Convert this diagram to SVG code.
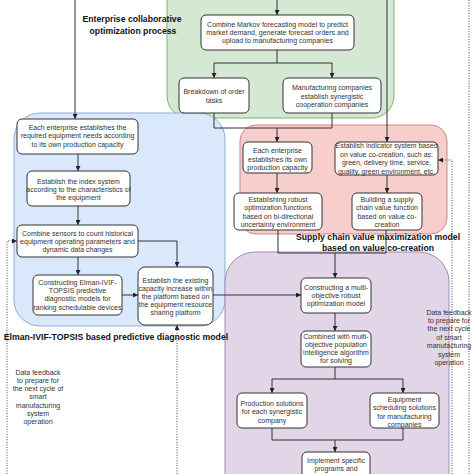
<svg xmlns="http://www.w3.org/2000/svg" width="474" height="474" viewBox="0 0 474 474">
<style>
.bg{fill:#fff}
.box{fill:#fff;stroke:#333;stroke-width:1}
.t{font-family:"Liberation Sans",Arial,sans-serif;font-size:7px;fill:#333;text-anchor:middle}
.ti{font-family:"Liberation Sans",Arial,sans-serif;font-size:8.7px;font-weight:bold;fill:#111;text-anchor:middle}
.ln{fill:none;stroke:#333;stroke-width:1}
.dot{fill:none;stroke:#444;stroke-width:1;stroke-dasharray:1,1.6}
</style>
<defs>
<marker id="ar" viewBox="0 0 6 6" refX="6" refY="3" markerWidth="5" markerHeight="5" orient="auto"><path d="M0,0 L6,3 L0,6 z" fill="#222"/></marker>
</defs>
<rect class="bg" width="474" height="474"/>
<g id="regions">
<rect id="region-green" x="167" y="-30" width="227" height="148" rx="22" fill="#d5e8d4" stroke="#82b366"/>
<rect id="region-blue" x="14" y="113" width="211" height="213" rx="26" fill="#dae8fc" stroke="#8fadd6"/>
<rect id="region-red" x="240" y="125" width="207" height="109" rx="16" fill="#f8cecc" stroke="#c98a88"/>
<rect id="region-purple" x="225" y="252" width="224" height="260" rx="30" fill="#e1d5e7" stroke="#a58bb3"/>
</g>
<g id="titles">
<text class="ti" x="132" y="22">Enterprise collaborative</text>
<text class="ti" x="133" y="33.5">optimization process</text>
<text class="ti" x="378" y="240">Supply chain value maximization model</text>
<text class="ti" x="378" y="250.5">based on value co-creation</text>
<text class="ti" x="116" y="340">Elman-IVIF-TOPSIS based predictive diagnostic model</text>
</g>
<g id="connectors">
<path class="ln" d="M75,0 V119" marker-end="url(#ar)"/>
<path class="ln" d="M277,0 V15" marker-end="url(#ar)"/>
<path class="ln" d="M387,0 V142" marker-end="url(#ar)"/>
<path class="ln" d="M277,50 V63 H214 V78" marker-end="url(#ar)"/>
<path class="ln" d="M277,63 H332 V78" marker-end="url(#ar)"/>
<path class="ln" d="M214,113 V128 H332 V113"/>
<path class="ln" d="M277,128 V142" marker-end="url(#ar)"/>
<path class="ln" d="M277,173 V193" marker-end="url(#ar)"/>
<path class="ln" d="M387,175 V193" marker-end="url(#ar)"/>
<path class="ln" d="M278,230 V253 H386 V230"/>
<path class="ln" d="M335,253 V278" marker-end="url(#ar)"/>
<path class="ln" d="M335,313 V331" marker-end="url(#ar)"/>
<path class="ln" d="M335,367 V379 H272 V393" marker-end="url(#ar)"/>
<path class="ln" d="M335,379 H403 V393" marker-end="url(#ar)"/>
<path class="ln" d="M272,428 V440 H403 V428"/>
<path class="ln" d="M335,440 V452" marker-end="url(#ar)"/>
<path class="ln" d="M78,154 V171" marker-end="url(#ar)"/>
<path class="ln" d="M78,206 V225" marker-end="url(#ar)"/>
<path class="ln" d="M78,257 V275" marker-end="url(#ar)"/>
<path class="ln" d="M138,241 H177 V267" marker-end="url(#ar)"/>
<path class="ln" d="M122,295 H138" marker-end="url(#ar)"/>
<path class="ln" d="M213,295 H301" marker-end="url(#ar)"/>
<path class="dot" d="M7,474 V241 H17" marker-end="url(#ar)"/>
<path class="dot" d="M177,474 V325" marker-end="url(#ar)"/>
<path class="dot" d="M469,0 V474"/>
<path class="dot" d="M452,474 V160 H438" marker-end="url(#ar)"/>
</g>
<g id="n-markov"><rect class="box" x="201" y="15" width="153" height="35" rx="5"/>
<text class="t" x="277.5" y="26.6">Combine Markov forecasting model to predict</text>
<text class="t" x="277.5" y="35">market demand, generate forecast orders and</text>
<text class="t" x="277.5" y="43.4">upload to manufacturing companies</text></g>
<g id="n-breakdown"><rect class="box" x="179" y="78" width="70" height="35" rx="5"/>
<text class="t" x="214" y="94.2">Breakdown of order</text>
<text class="t" x="214" y="102.6">tasks</text></g>
<g id="n-manufacturing"><rect class="box" x="283" y="78" width="98" height="35" rx="5"/>
<text class="t" x="332" y="90.2">Manufacturing companies</text>
<text class="t" x="332" y="98.6">establish synergistic</text>
<text class="t" x="332" y="107">cooperation companies</text></g>
<g id="n-own-capacity"><rect class="box" x="243" y="142" width="69" height="31" rx="5"/>
<text class="t" x="277.5" y="153">Each enterprise</text>
<text class="t" x="277.5" y="161.5">establishes its own</text>
<text class="t" x="277.5" y="170">production capacity</text></g>
<g id="n-indicator"><rect class="box" x="335" y="142" width="103" height="33" rx="5"/>
<text class="t" x="386.5" y="147.8">Establish indicator system based</text>
<text class="t" x="386.5" y="156.5">on value co-creation, such as:</text>
<text class="t" x="386.5" y="165.2">green, delivery time, service,</text>
<text class="t" x="386.5" y="173.6">quality, green environment, etc.</text></g>
<g id="n-robust"><rect class="box" x="234" y="193" width="88" height="37" rx="5"/>
<text class="t" x="278" y="202">Establishing robust</text>
<text class="t" x="278" y="210.4">optimization functions</text>
<text class="t" x="278" y="218.8">based on bi-directional</text>
<text class="t" x="278" y="227.2">uncertainty environment</text></g>
<g id="n-building"><rect class="box" x="352" y="193" width="70" height="37" rx="5"/>
<text class="t" x="387" y="202">Building a supply</text>
<text class="t" x="387" y="210.4">chain value function</text>
<text class="t" x="387" y="218.8">based on value co-</text>
<text class="t" x="387" y="227.2">creation</text></g>
<g id="n-multi"><rect class="box" x="301" y="278" width="70" height="35" rx="5"/>
<text class="t" x="336" y="289.5">Constructing a multi-</text>
<text class="t" x="336" y="297.5">objective robust</text>
<text class="t" x="336" y="305.7">optimization model</text></g>
<g id="n-combined"><rect class="box" x="301" y="331" width="70" height="36" rx="5"/>
<text class="t" x="336" y="338.7">Combined with multi-</text>
<text class="t" x="336" y="346.8">objective population</text>
<text class="t" x="336" y="354.9">intelligence algorithm</text>
<text class="t" x="336" y="363">for solving</text></g>
<g id="n-production"><rect class="box" x="237" y="393" width="70" height="35" rx="5"/>
<text class="t" x="272" y="405.5">Production solutions</text>
<text class="t" x="272" y="414">for each synergistic</text>
<text class="t" x="272" y="422.5">company</text></g>
<g id="n-equipment"><rect class="box" x="370" y="393" width="69" height="35" rx="5"/>
<text class="t" x="404.5" y="401.5">Equipment</text>
<text class="t" x="404.5" y="410">scheduling solutions</text>
<text class="t" x="404.5" y="418.5">for manufacturing</text>
<text class="t" x="404.5" y="427">companies</text></g>
<g id="n-implement"><rect class="box" x="302" y="452" width="68" height="40" rx="5"/>
<text class="t" x="336" y="462.5">Implement specific</text>
<text class="t" x="336" y="470.8">programs and</text></g>
<g id="n-required"><rect class="box" x="17" y="119" width="121" height="35" rx="5"/>
<text class="t" x="77.5" y="129.8">Each enterprise establishes the</text>
<text class="t" x="77.5" y="138.2">required equipment needs according</text>
<text class="t" x="77.5" y="146.6">to its own production capacity</text></g>
<g id="n-index"><rect class="box" x="27" y="171" width="103" height="35" rx="5"/>
<text class="t" x="78.5" y="183.6">Establish the index system</text>
<text class="t" x="78.5" y="192">according to the characteristics of</text>
<text class="t" x="78.5" y="200.4">the equipment</text></g>
<g id="n-sensors"><rect class="box" x="17" y="225" width="121" height="32" rx="5"/>
<text class="t" x="77.5" y="235.5">Combine sensors to count historical</text>
<text class="t" x="77.5" y="243.7">equipment operating parameters and</text>
<text class="t" x="77.5" y="251.9">dynamic data changes</text></g>
<g id="n-elman"><rect class="box" x="33" y="275" width="89" height="40" rx="5"/>
<text class="t" x="77.5" y="284.6">Constructing Elman-IVIF-</text>
<text class="t" x="77.5" y="293">TOPSIS predictive</text>
<text class="t" x="77.5" y="301.4">diagnostic models for</text>
<text class="t" x="77.5" y="309.8">ranking schedulable devices</text></g>
<g id="n-existing"><rect class="box" x="138" y="267" width="75" height="58" rx="7"/>
<text class="t" x="175.5" y="282.6">Establish the existing</text>
<text class="t" x="175.5" y="290.6">capacity increase within</text>
<text class="t" x="175.5" y="298.6">the platform based on</text>
<text class="t" x="175.5" y="306.6">the equipment resource</text>
<text class="t" x="175.5" y="314.6">sharing platform</text></g>
<g id="feedback-left">
<text class="t" x="38" y="374.5">Data feedback</text>
<text class="t" x="38" y="382.8">to prepare for</text>
<text class="t" x="38" y="391.1">the next cycle of</text>
<text class="t" x="38" y="399.4">smart</text>
<text class="t" x="38" y="407.7">manufacturing</text>
<text class="t" x="38" y="416">system</text>
<text class="t" x="38" y="424.3">operation</text>
</g>
<g id="feedback-right">
<text class="t" x="449" y="314.5">Data feedback</text>
<text class="t" x="449" y="322.9">to prepare for</text>
<text class="t" x="449" y="331.3">the next cycle</text>
<text class="t" x="449" y="339.7">of smart</text>
<text class="t" x="449" y="348.1">manufacturing</text>
<text class="t" x="449" y="356.5">system</text>
<text class="t" x="449" y="364.9">operation</text>
</g>
</svg>
